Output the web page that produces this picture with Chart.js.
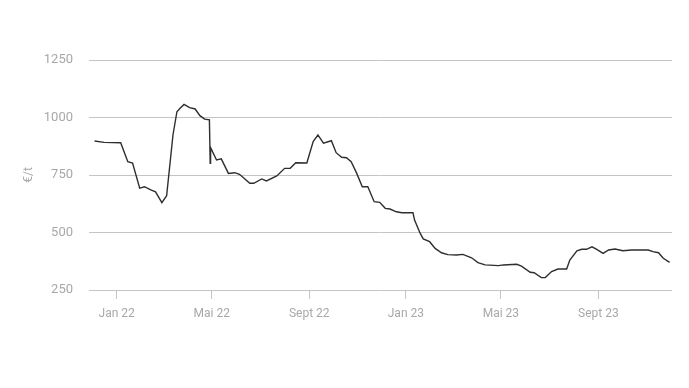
<!DOCTYPE html>
<html><head><meta charset="utf-8">
<script src="https://cdn.jsdelivr.net/npm/chart.js@4/dist/chart.umd.min.js"></script>
<style>html,body{margin:0;padding:0;background:#fff}#wrap{width:689px;height:388px}</style>
</head><body><div id="wrap"><canvas id="c" width="689" height="388"></canvas></div>
<script>
// days since 1 Jan 2022
const dayOffsets = [-28,-16,5,14,20,29,35,43,49,57,63,71,76,80,85,92,99,105,111,117,118,118.5,126,132,141,149,155,168,173,183,189,202,212,219,226,240,248,254,261,271,277,284,290,296,303,310,317,325,332,339,345,353,360,374,376,383,387,395,402,410,418,429,437,448,456,465,482,488,505,511,522,527,536,541,549,557,568,572,581,587,593,600,606,614,621,629,639,650,671,677,684,690,698];
const prices = [898,892,890,808,802,693,699,685,677,630,660,924,1025,1040,1057,1043,1037,1008,993,990,801,869,815,820,757,760,753,714,714,733,724,746,779,779,803,802,895,924,888,899,847,827,825,808,757,699,699,634,631,605,602,590,586,586,554,497,472,460,431,412,404,402,405,390,369,359,356,359,362,354,327,325,304,304,330,341,341,380,420,427,427,438,427,409,424,428,421,424,424,417,412,388,370];
const tickDays = [0,120,243,365,485,608];
const tickLabels = ['Jan 22','Mai 22','Sept 22','Jan 23','Mai 23','Sept 23'];
const yTicks = [250,500,750,1000,1250];
const yTitle = '€/t';

const pts = dayOffsets.map((d,i)=>({x:d,y:prices[i]}));
const grey = '#a8a8a8';
new Chart(document.getElementById('c'),{
  type:'line',
  data:{datasets:[{data:pts,borderColor:'#2e2e2e',borderWidth:1.4,pointRadius:0,tension:0,fill:false}]},
  options:{
    responsive:false,animation:false,
    layout:{padding:{left:22,right:17,top:60,bottom:0}},
    plugins:{legend:{display:false},tooltip:{enabled:false}},
    scales:{
      x:{type:'linear',min:-35,max:701,
        afterBuildTicks:s=>{s.ticks=tickDays.map(v=>({value:v}));},
        afterFit:s=>{s.height=98;},
        grid:{drawOnChartArea:false,drawTicks:true,tickLength:9,color:'#c4c4c4',lineWidth:1},
        border:{display:false},
        ticks:{autoSkip:false,maxRotation:0,color:grey,padding:8,font:{family:'Roboto',size:12},
          callback:(v)=>{const i=tickDays.indexOf(v);return i>=0?tickLabels[i]:'';}}
      },
      y:{min:250,max:1250,
        afterBuildTicks:s=>{s.ticks=yTicks.map(v=>({value:v}));},
        afterFit:s=>{s.width=67;},
        grid:{drawTicks:false,color:'#c4c4c4',lineWidth:1},
        border:{display:false},
        ticks:{color:grey,padding:16,font:{family:'Roboto',size:13},callback:v=>String(v)},
        title:{display:true,text:yTitle,color:grey,font:{family:'Roboto',size:12},padding:{top:0,bottom:0}}
      }
    }
  }
});
</script></body></html>
